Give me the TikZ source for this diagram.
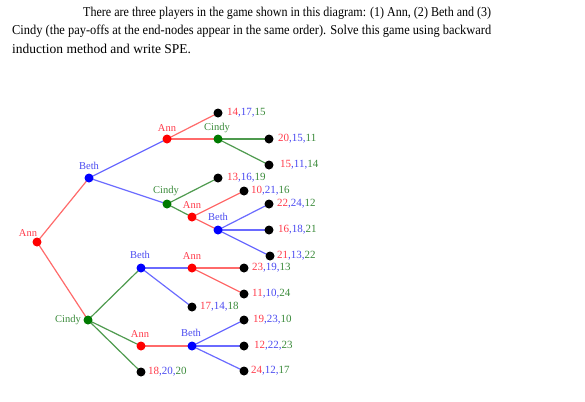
\documentclass[tikz,border=0pt]{standalone}
\usepackage{fontspec}
\setmainfont{Liberation Serif}
\usetikzlibrary{backgrounds}
\definecolor{nr}{HTML}{FF0000}
\definecolor{nb}{HTML}{0000FF}
\definecolor{ng}{HTML}{007A00}
\definecolor{er}{HTML}{FF6A6A}
\definecolor{eb}{HTML}{6A6AFF}
\definecolor{eg}{HTML}{4E9A4E}
\definecolor{tr}{HTML}{FF3A4A}
\definecolor{tb}{HTML}{4A4AF0}
\definecolor{tg}{HTML}{3A8A3A}
\newcommand\pay[3]{\textcolor{tr}{#1}\textcolor{tb}{,#2,}\textcolor{tg}{#3}}
\tikzset{
  dot/.style={circle,inner sep=0pt,minimum size=9bp,draw=none},
  annd/.style={dot,fill=nr},
  bethd/.style={dot,fill=nb},
  cindyd/.style={dot,fill=ng},
  termd/.style={dot,fill=black},
  plbl/.style={inner sep=0pt,font=\fontsize{10.5bp}{12bp}\selectfont},
  paylbl/.style={inner sep=0pt,anchor=west,font=\fontsize{11bp}{13bp}\selectfont},
  redge/.style={draw=er,line width=1.2bp},
  bedge/.style={draw=eb,line width=1.2bp},
  gedge/.style={draw=eg,line width=1.2bp},
  para/.style={inner sep=0pt,anchor=base west,font=\fontsize{13.5bp}{16bp}\selectfont}
}
\begin{document}
\begin{tikzpicture}[x=1bp,y=-1bp]
\useasboundingbox (0,0) rectangle (585,401);
% text
\node[para] (l1) at (83,16) {\resizebox{408bp}{\height}{There are three players in the game shown in this diagram: (1) Ann, (2) Beth and (3)}};
\node[para] (l2) at (12,34) {\resizebox{479bp}{\height}{Cindy (the pay-offs at the end-nodes appear in the same order). Solve this game using backward}};
\node[para] (l3) at (12,53) {induction method and write SPE.};
% decision nodes
\node[annd] (A0) at (37,242) {};
\node[bethd] (B1) at (89,178) {};
\node[annd] (A1) at (167,139) {};
\node[cindyd] (C1) at (218,139) {};
\node[cindyd] (C2) at (167,204) {};
\node[annd] (A2) at (192,217) {};
\node[bethd] (B2) at (218,230) {};
\node[bethd] (B3) at (141,268) {};
\node[annd] (A3) at (192,268) {};
\node[cindyd] (C3) at (88,320) {};
\node[annd] (A4) at (141,346) {};
\node[bethd] (B4) at (192,346) {};
% terminal nodes
\node[termd] (t1) at (218,113) {};
\node[termd] (t2) at (269,139) {};
\node[termd] (t3) at (269,165) {};
\node[termd] (t4) at (218,178) {};
\node[termd] (t5) at (244,191) {};
\node[termd] (t6) at (269,204) {};
\node[termd] (t7) at (269,230) {};
\node[termd] (t8) at (270,256) {};
\node[termd] (t9) at (244,268) {};
\node[termd] (t10) at (244,294) {};
\node[termd] (t11) at (192,307) {};
\node[termd] (t12) at (244,320) {};
\node[termd] (t13) at (244,346) {};
\node[termd] (t14) at (244,371) {};
\node[termd] (t15) at (141,372) {};
% player labels
\node[plbl,text=tr] (lA0) at ([shift={(-9,-9)}]A0) {Ann};
\node[plbl,text=tb] (lB1) at ([shift={(0,-12)}]B1) {Beth};
\node[plbl,text=tr] (lA1) at ([shift={(0,-11)}]A1) {Ann};
\node[plbl,text=tg] (lC1) at ([shift={(-1,-11)}]C1) {Cindy};
\node[plbl,text=tg] (lC2) at ([shift={(-1,-13)}]C2) {Cindy};
\node[plbl,text=tr] (lA2) at ([shift={(0,-12)}]A2) {Ann};
\node[plbl,text=tb] (lB2) at ([shift={(0,-13)}]B2) {Beth};
\node[plbl,text=tb] (lB3) at ([shift={(-1,-13)}]B3) {Beth};
\node[plbl,text=tr] (lA3) at ([shift={(0,-12)}]A3) {Ann};
\node[plbl,text=tg] (lC3) at ([shift={(-20,0)}]C3) {Cindy};
\node[plbl,text=tr] (lA4) at ([shift={(-1,-12)}]A4) {Ann};
\node[plbl,text=tb] (lB4) at ([shift={(-1,-13)}]B4) {Beth};
% payoffs
\node[paylbl] (p1) at ([xshift=9]t1) {\pay{14}{17}{15}};
\node[paylbl] (p2) at ([xshift=9]t2) {\pay{20}{15}{11}};
\node[paylbl] (p3) at ([xshift=11]t3) {\pay{15}{11}{14}};
\node[paylbl] (p4) at ([xshift=9]t4) {\pay{13}{16}{19}};
\node[paylbl] (p5) at ([xshift=7]t5) {\pay{10}{21}{16}};
\node[paylbl] (p6) at ([xshift=8]t6) {\pay{22}{24}{12}};
\node[paylbl] (p7) at ([xshift=9]t7) {\pay{16}{18}{21}};
\node[paylbl] (p8) at ([xshift=7]t8) {\pay{21}{13}{22}};
\node[paylbl] (p9) at ([xshift=8]t9) {\pay{23}{19}{13}};
\node[paylbl] (p10) at ([xshift=8]t10) {\pay{11}{10}{24}};
\node[paylbl] (p11) at ([xshift=8]t11) {\pay{17}{14}{18}};
\node[paylbl] (p12) at ([xshift=9]t12) {\pay{19}{23}{10}};
\node[paylbl] (p13) at ([xshift=10]t13) {\pay{12}{22}{23}};
\node[paylbl] (p14) at ([xshift=7]t14) {\pay{24}{12}{17}};
\node[paylbl] (p15) at ([xshift=7]t15) {\pay{18}{20}{20}};
% edges
\begin{scope}[on background layer]
\path[redge] (A0.center) -- (B1.center);
\path[redge] (A0.center) -- (C3.center);
\path[bedge] (B1.center) -- (A1.center);
\path[bedge] (B1.center) -- (C2.center);
\path[redge] (A1.center) -- (t1.center);
\path[redge] (A1.center) -- (C1.center);
\path[gedge] (C1.center) -- (t2.center);
\path[gedge] (C1.center) -- (t3.center);
\path[gedge] (C2.center) -- (t4.center);
\path[gedge] (C2.center) -- (A2.center);
\path[redge] (A2.center) -- (t5.center);
\path[redge] (A2.center) -- (B2.center);
\path[bedge] (B2.center) -- (t6.center);
\path[bedge] (B2.center) -- (t7.center);
\path[bedge] (B2.center) -- (t8.center);
\path[gedge] (C3.center) -- (B3.center);
\path[gedge] (C3.center) -- (A4.center);
\path[gedge] (C3.center) -- (t15.center);
\path[bedge] (B3.center) -- (A3.center);
\path[bedge] (B3.center) -- (t11.center);
\path[redge] (A3.center) -- (t9.center);
\path[redge] (A3.center) -- (t10.center);
\path[redge] (A4.center) -- (B4.center);
\path[bedge] (B4.center) -- (t12.center);
\path[bedge] (B4.center) -- (t13.center);
\path[bedge] (B4.center) -- (t14.center);
\end{scope}
\end{tikzpicture}
\end{document}
